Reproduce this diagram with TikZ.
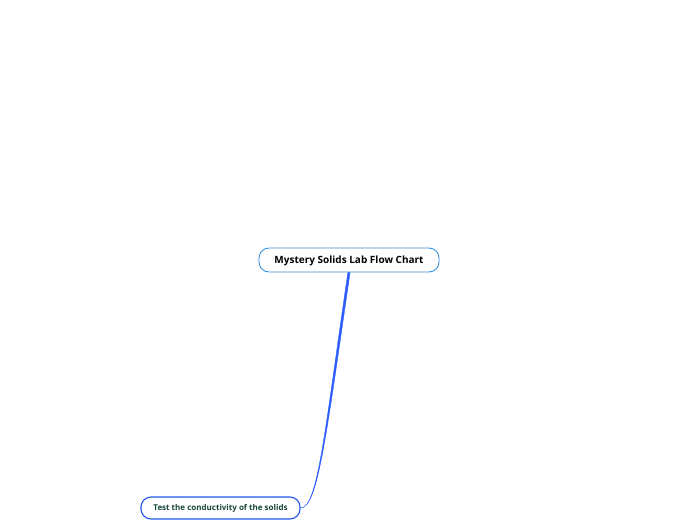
\documentclass[tikz,border=0pt]{standalone}
\usepackage{fontspec}
\setmainfont{Open Sans}
\definecolor{rootline}{HTML}{3A8FD8}
\definecolor{childline}{HTML}{2255EE}
\definecolor{curve}{HTML}{2A5CFF}
\definecolor{childtext}{HTML}{16433A}
\definecolor{stub}{HTML}{9DB0D8}
\begin{document}
\begin{tikzpicture}[x=1pt,y=-1pt,
  rootbox/.style={draw=rootline,line width=0.9pt,rounded corners=10pt,minimum width=180pt,minimum height=24pt,inner sep=0pt,text height=7pt,text depth=0pt,font=\fontsize{10}{12}\selectfont\bfseries,text=black},
  childbox/.style={draw=childline,line width=1.1pt,rounded corners=10pt,minimum width=159pt,minimum height=22pt,inner sep=0pt,text height=5.6pt,text depth=0pt,font=\fontsize{8}{10}\selectfont\bfseries,text=childtext},
  link/.style={fill=curve,draw=curve,line width=0.4pt}]
\useasboundingbox (0,0) rectangle (697,520);
\node[rootbox] (root) at (349,260) {Mystery Solids Lab Flow Chart};
\node[childbox] (child) at (220.5,508) {Test the conductivity of the solids};
\coordinate (stubend) at (221,520);
\path[link] ([xshift=-1.1pt]root.south) .. controls (324.5,432) and (318,507.7) .. (child.east)
  .. controls (318,508.3) and (326.7,432) .. ([xshift=1.1pt]root.south) -- cycle;
\draw[stub,line width=0.8pt] (child.south) -- (stubend);
\end{tikzpicture}
\end{document}
